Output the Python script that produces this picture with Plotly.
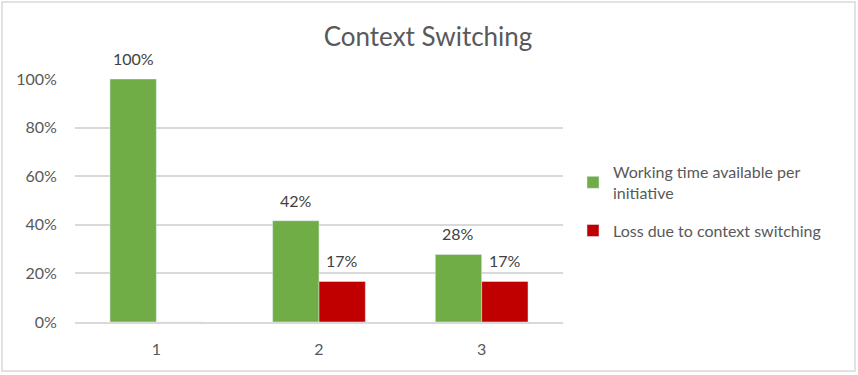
import plotly.graph_objects as go

categories = ["1", "2", "3"]
working = [1.0, 0.4167, 0.2778]
loss = [0.0, 0.1667, 0.1667]
names = ["Working time available per<br>initiative", "Loss due to context switching"]
tick_vals = [0, 0.2, 0.4, 0.6, 0.8, 1.0]
tick_text = ["0%", "20%", "40%", "60%", "80%", "100%"]

W, H = 858, 375
L, R, T, B = 75, 295, 79, 53
pw, ph = W - L - R, H - T - B
BARGAP = 0.43

def px_x(p):
    return (p - L) / pw

def px_y(p):
    return (H - B - p) / ph

fig = go.Figure()
fig.add_trace(go.Bar(x=categories, y=working, name=names[0], marker_color="#70ad47",
                     legendgroup="a"))
fig.add_trace(go.Bar(x=categories, y=loss, name=names[1], marker_color="#c00000",
                     legendgroup="b"))

bar_px = pw / len(categories) * (1 - BARGAP) / 2
annotations = []
for series, sh in ((working, -bar_px / 2), (loss, bar_px / 2)):
    for i, v in enumerate(series):
        if v > 0:
            annotations.append(dict(x=i, y=v, xref="x", yref="y", text=f"{v*100:.0f}%",
                                    showarrow=False, xshift=sh, yshift=9,
                                    yanchor="bottom", xanchor="center",
                                    font=dict(size=16, color="#404040")))

fig.update_layout(
    width=W, height=H,
    margin=dict(l=L, r=R, t=T, b=B),
    paper_bgcolor="white", plot_bgcolor="white",
    font=dict(family="Lato, Open Sans, sans-serif", color="#595959", size=16),
    title=dict(text="Context Switching", x=428 / W, xanchor="center",
               y=1 - 37 / H, yanchor="middle", font=dict(size=26, color="#595959")),
    barmode="group", bargap=BARGAP, bargroupgap=0,
    showlegend=True,
    legend=dict(x=px_x(573), y=px_y(155), xanchor="left", yanchor="top",
                font=dict(size=16, color="#595959"), tracegroupgap=14,
                bgcolor="rgba(0,0,0,0)"),
    xaxis=dict(showgrid=False, showline=True, linecolor="#d9d9d9", linewidth=1.5,
               ticks="outside", ticklen=12, tickcolor="rgba(0,0,0,0)",
               tickfont=dict(size=16, color="#595959")),
    yaxis=dict(range=[0, 1], tickvals=tick_vals, ticktext=tick_text,
               showgrid=True, gridcolor="#d9d9d9", gridwidth=1.5, zeroline=False,
               showline=False, ticks="outside", ticklen=14, tickcolor="rgba(0,0,0,0)",
               tickfont=dict(size=16, color="#595959")),
    annotations=annotations,
    shapes=[dict(type="rect", xref="paper", yref="paper",
                 x0=px_x(2), x1=px_x(855), y0=px_y(371), y1=px_y(2),
                 line=dict(color="#d9d9d9", width=1.5), fillcolor="rgba(0,0,0,0)",
                 layer="below")],
)

fig.write_html("out.html")
